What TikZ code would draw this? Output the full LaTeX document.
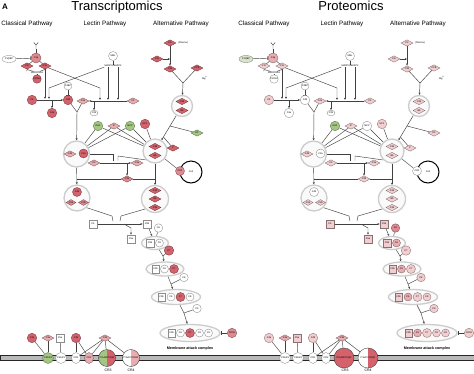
\documentclass[tikz,border=0pt]{standalone}
\usepackage{fontspec}
\setmainfont{Liberation Sans}
\usetikzlibrary{shapes.geometric,arrows.meta}
\pgfdeclarelayer{bg}
\pgfsetlayers{bg,main}
\definecolor{cR}{RGB}{212,98,108}
\definecolor{cM}{RGB}{223,138,145}
\definecolor{cP}{RGB}{232,172,177}
\definecolor{cLP}{RGB}{242,206,208}
\definecolor{cG}{RGB}{163,199,130}
\definecolor{cLG}{RGB}{218,230,203}
\newcommand\tf{\fontsize{2.4}{2.8}\selectfont}
\newcommand\hf{\fontsize{6.3}{7}\selectfont}
\newcommand\setk[2]{\colorlet{k#1}{#2}}
\tikzset{
 nb/.style={draw=k#1!55!black, fill=k#1, inner sep=0pt, line width=0.35pt, font=\tf},
 ci/.style={nb=#1, circle, minimum size=9.5pt},
 di/.style={nb=#1, diamond, aspect=2, minimum width=12pt, minimum height=6.5pt},
 sqr/.style={nb=#1, rectangle, minimum size=8.5pt},
 el/.style={nb=#1, ellipse, minimum width=9pt, minimum height=11pt},
 comp/.style={circle, draw=gray!40, line width=1.3pt, fill=gray!4, minimum size=#1, inner sep=0pt},
 compe/.style={ellipse, draw=gray!40, line width=1.3pt, fill=gray!4, inner sep=0pt},
 ln/.style={draw=gray!50!black, line width=0.45pt},
 ar/.style={ln, -{Stealth[length=2.2pt,width=2pt]}},
 inh/.style={ln, -{Bar[width=3.5pt]}},
 cat/.style={ln, -{Circle[open,length=1.8pt]}},
 txt/.style={font=\tf, inner sep=0pt},
 spl/.style 2 args={circle, draw=gray!40!black, line width=0.35pt, minimum size=\crsz, inner sep=0pt, font=\tf,
   path picture={\fill[#1] (path picture bounding box.south west) rectangle (path picture bounding box.north);
                 \fill[#2] (path picture bounding box.south) rectangle (path picture bounding box.north east);}},
}
\newcommand\colsL{%
\setk{c1qbp}{white}\setk{c1q}{cM}\setk{c1r}{cR}\setk{c1s}{cR}\setk{serp}{cR}\setk{mbl}{white}%
\setk{c4bp}{white}\setk{c4}{cR}\setk{c4b}{cR}\setk{c4a}{cR}\setk{c2a}{cP}\setk{c2}{cP}\setk{c2b}{white}%
\setk{c3p}{cR}\setk{c3h}{cR}\setk{c3b0}{cR}\setk{bf}{cR}\setk{ci1a}{cR}\setk{ci1b}{cR}%
\setk{daf}{cG}\setk{fi}{cP}\setk{mcp}{cG}\setk{hf1}{cR}\setk{df}{cG}%
\setk{cla}{cP}\setk{clb}{cR}\setk{cra}{cR}\setk{crb}{cR}\setk{pp}{cR}%
\setk{c3m}{cP}\setk{c3a}{cP}\setk{c3bm}{cM}\setk{cr1}{cM}%
\setk{lla}{cR}\setk{llb}{cM}\setk{llc}{cM}\setk{lra}{cR}\setk{lrb}{cR}\setk{lrc}{cR}%
\setk{c5}{white}\setk{c5b}{white}\setk{c5a}{white}\setk{c6}{white}%
\setk{xC5b}{white}\setk{xC6}{white}\setk{xC7}{cR}\setk{xC8}{white}\setk{xC9}{white}\setk{cd59}{cM}%
\setk{b1}{cR}\setk{b2}{cP}\setk{b3}{white}\setk{b4}{cR}\setk{b5}{cP}%
\setk{mm1}{cG}\setk{mm2}{white}\setk{mm3}{white}\setk{mm4}{cP}%
\setk{cr3a}{cG}\setk{cr3b}{cR}\setk{cr4a}{white}\setk{cr4b}{cP}\def\crsz{17pt}}
\newcommand\colsR{%
\setk{c1qbp}{cLG}\setk{c1q}{cP}\setk{c1r}{cLP}\setk{c1s}{cLP}\setk{serp}{white}\setk{mbl}{white}%
\setk{c4bp}{white}\setk{c4}{cLP}\setk{c4b}{white}\setk{c4a}{white}\setk{c2a}{cLP}\setk{c2}{cLP}\setk{c2b}{white}%
\setk{c3p}{cLP}\setk{c3h}{cLP}\setk{c3b0}{cLP}\setk{bf}{cLP}\setk{ci1a}{cLP}\setk{ci1b}{cLP}%
\setk{daf}{cG}\setk{fi}{cLP}\setk{mcp}{white}\setk{hf1}{cLP}\setk{df}{cLP}%
\setk{cla}{cLP}\setk{clb}{white}\setk{cra}{cLP}\setk{crb}{cLP}\setk{pp}{cLP}%
\setk{c3m}{cLP}\setk{c3a}{cLP}\setk{c3bm}{cLP}\setk{cr1}{white}%
\setk{lla}{white}\setk{llb}{cLP}\setk{llc}{cLP}\setk{lra}{cLP}\setk{lrb}{cLP}\setk{lrc}{cLP}%
\setk{c5}{cLP}\setk{c5b}{cLP}\setk{c5a}{cLP}\setk{c6}{cM}%
\setk{xC5b}{cLP}\setk{xC6}{cP}\setk{xC7}{cLP}\setk{xC8}{cLP}\setk{xC9}{cLP}\setk{cd59}{cLP}%
\setk{b1}{cLP}\setk{b2}{cP}\setk{b3}{cLP}\setk{b4}{cLP}\setk{b5}{cP}%
\setk{mm1}{white}\setk{mm2}{white}\setk{mm3}{white}\setk{mm4}{white}%
\setk{cr3a}{cR}\setk{cr3b}{cR}\setk{cr4a}{white}\setk{cr4b}{cR}\def\crsz{20pt}}
\newcommand\drawpanel{%
\node[font=\hf, inner sep=0pt] (h1) at (27,24) {Classical Pathway};
\node[font=\hf, inner sep=0pt] (h2) at (105,24) {Lectin Pathway};
\node[font=\hf, inner sep=0pt] (h3) at (181,24) {Alternative Pathway};
% compartments
\node[comp=21pt] (ci1) at (182,106) {};
\node[comp=26pt] (convL) at (76.5,154) {};
\node[comp=24pt] (convR) at (155,151) {};
\node[comp=26pt] (lowL) at (77,198) {};
\node[comp=27pt] (lowR) at (155,199) {};
\node[compe,minimum width=27pt,minimum height=13pt] (mac1) at (155,243) {};
\node[compe,minimum width=38pt,minimum height=14pt] (mac2) at (165,269) {};
\node[compe,minimum width=49pt,minimum height=15pt] (mac3) at (176,297) {};
\node[compe,minimum width=60pt,minimum height=17pt] (mac4) at (190,333) {};
\node[circle,draw=black,line width=1pt,minimum size=22pt,font=\tf,inner sep=0pt] (cell) at (191,172) {Cell};
% classical and lectin
\coordinate (ab) at (36,49);
\draw[ln] (ab) -- ++(0,-4) -- ++(-2.2,-2.5) (ab) ++(0,-4) -- ++(2.2,-2.5);
\node[el=c1qbp, minimum width=14pt, minimum height=7pt] (c1qbp) at (9,59) {C1QBP};
\node[ci=c1q, minimum size=10pt] (c1q) at (36,58) {C1q};
\node[di=c1r] (c1r) at (27,66) {C1r};
\node[di=c1s] (c1s) at (45,66) {C1s};
\node[txt] (serpl) at (37,72.5) {SERPING1};
\node[ci=serp, minimum size=8.5pt] (serp) at (37,79) {C1INH};
\node[ci=mbl, minimum size=9pt] (mbl) at (113,56) {MBL};
\node[txt] (masp) at (113,66) {MASP1/MASP2};
\node[ci=c4bp, minimum size=8pt] (c4bp) at (68,86) {C4BP};
\node[ci=c4] (c4) at (32,100) {C4};
\node[ci=c4b] (c4b) at (68,100) {C4b};
\node[ci=c4a] (c4a) at (52,113) {C4a};
\node[di=c2a] (c2a) at (83,101) {C2a};
\node[di=c2] (c2) at (133,101) {C2};
\node[el=c2b, minimum width=8pt, minimum height=5.5pt] (c2b) at (94,113) {C2b};
% alternative
\node[di=c3p] (c3p) at (170,43) {C3};
\node[txt,anchor=west] (plasma) at (178,43) {(Plasma)};
\node[di=c3h] (c3h) at (157,59) {C3i};
\node[di=c3b0] (c3b0) at (170,69) {C3b};
\node[di=bf] (bf) at (197,68) {CFB};
\node[txt] (mg) at (205,78) {Mg\textsuperscript{2+}};
\node[di=ci1a] (ci1a) at (182,101.5) {C3b};
\node[di=ci1b] (ci1b) at (182,110.5) {Bb};
% regulators and convertases
\node[ci=daf] (daf) at (98,126) {DAF};
\node[di=fi] (fi) at (114,126) {IF};
\node[ci=mcp] (mcp) at (130,126) {MCP};
\node[ci=hf1] (hf1) at (145,124) {HF1};
\node[di=df] (df) at (197,133) {DF};
\node[di=cla] (cla) at (70,154) {C4b};
\node[ci=clb, minimum size=9pt] (clb) at (83.5,153.5) {C2a};
\node[di=cra] (cra) at (155,146.5) {C3b};
\node[di=crb] (crb) at (155,155.5) {Bb};
\node[di=pp] (pp) at (173,148) {P};
\node[di=c3m] (c3m) at (94,163) {C3};
\node[di=c3a] (c3a) at (137,163) {C3a};
\node[di=c3bm] (c3bm) at (127,179) {C3b};
\node[ci=cr1, minimum size=9pt] (cr1) at (180,171) {CR1};
\node[ci=lla, minimum size=9pt] (lla) at (77,192) {C4b};
\node[di=llb, minimum width=10pt, minimum height=6pt] (llb) at (71,202.5) {C2a};
\node[di=llc, minimum width=10pt, minimum height=6pt] (llc) at (83.5,202.5) {C3b};
\node[di=lra] (lra) at (155,190.5) {C3b};
\node[di=lrb] (lrb) at (155,199) {Bb};
\node[di=lrc] (lrc) at (155,207.5) {C3b};
% terminal pathway
\node[sqr=c5] (c5) at (93,224) {C5};
\node[sqr=c5b] (c5b) at (147,224) {C5b};
\node[sqr=c5a] (c5a) at (131,239) {C5a};
\node[ci=c6, minimum size=8.5pt] (c6) at (158.5,228) {C6};
\node[sqr=xC5b, minimum size=7.5pt] (m1a) at (150,243) {C5b};
\node[ci=xC6, minimum size=8pt] (m1b) at (159.5,243) {C6};
\node[ci=xC7] (c7) at (169,250.5) {C7};
\node[sqr=xC5b, minimum size=7.5pt] (m2a) at (155.5,269) {C5b};
\node[ci=xC6, minimum size=8pt] (m2b) at (164.5,269) {C6};
\node[ci=xC7, minimum size=9pt] (m2c) at (174,269) {C7};
\node[ci=xC8, minimum size=8.5pt] (c8) at (184,277.5) {C8};
\node[sqr=xC5b, minimum size=7.5pt] (m3a) at (161.5,297) {C5b};
\node[ci=xC6, minimum size=8pt] (m3b) at (171,297) {C6};
\node[ci=xC7, minimum size=9pt] (m3c) at (180.5,297) {C7};
\node[ci=xC8, minimum size=8pt] (m3d) at (190,297) {C8};
\node[ci=xC9, minimum size=8.5pt] (c9) at (197,308.5) {C9};
\node[sqr=xC5b, minimum size=7.5pt] (m4a) at (171.5,333) {C5b};
\node[ci=xC6, minimum size=8pt] (m4b) at (180.5,333) {C6};
\node[ci=xC7, minimum size=9pt] (m4c) at (190,333) {C7};
\node[ci=xC8, minimum size=8pt] (m4d) at (199.5,333) {C8};
\node[ci=xC9, minimum size=8pt] (m4e) at (208.5,333) {C9};
\node[ci=cd59] (cd59) at (232,333) {CD59};
\node[font=\fontsize{3.7}{4}\selectfont\bfseries, inner sep=0pt] (macl) at (190,349) {Membrane attack complex};
% receptors
\node[ci=b1] (b1) at (32,338) {C4a};
\node[di=b2] (b2) at (48,338) {C3a};
\node[sqr=b3] (b3) at (60,338) {C5a};
\node[ci=b4] (b4) at (76,338) {C4b};
\node[di=b5] (b5) at (105,338) {C3b};
\node[el=mm1] (mm1) at (48,358) {C3AR1};
\node[el=mm2] (mm2) at (61,358) {C5AR1};
\node[el=mm3] (mm3) at (76,358) {CR1};
\node[el=mm4] (mm4) at (89,358) {CR2};
\node[spl={kcr3a}{kcr3b}] (cr3) at (107,358) {ITGAM\,ITGB2};
\node[spl={kcr4a}{kcr4b}] (cr4) at (131,358) {ITGAX\,ITGB2};
\node[txt, font=\fontsize{3.5}{4}\selectfont] (cr3l) at (108,370.5) {CR3};
\node[txt, font=\fontsize{3.5}{4}\selectfont] (cr4l) at (131,370.5) {CR4};
\begin{pgfonlayer}{bg}
\draw[ln] (ab) -- (c1q);
\draw[inh] (c1qbp) -- (c1q);
\draw[ln] (c1q) -- (c1r);
\draw[ln] (c1q) -- (c1s);
\draw[inh] (serpl) -- (c1r.south);
\draw[inh] (serpl) -- (c1s.south);
\draw[ln] (serpl) -- (serp);
\draw[ln] (mbl) -- (masp);
\draw[cat] (c1s.south) -- (45,98.5);
\draw[cat] (c1s.south east) -- (100,88) -- (100,99.5);
\draw[cat] (masp.south west) -- (49,88) -- (49,98.5);
\draw[cat] ([xshift=-5pt]masp.south) -- ++(0,32.5);
\draw[cat] ([xshift=5pt]masp.south) -- ++(0,32.5);
\draw[ar] (c4) -- (c4b);
\draw[ar] (c4 -| c4a) -- (c4a);
\draw[inh] (c4bp) -- (c4b);
\draw[ar] (c2) -- (c2a);
\draw[ar] (c2 -| c2b) -- (c2b);
\coordinate (j1) at (77,112);
\draw[ln] (c4b) -- (j1);
\draw[ln] (c2a) -- (j1);
\draw[ar] (j1) -- (convL);
\draw[ar] (c3p) -- (c3b0);
\draw[ar] (c3h) -- (c3p |- c3h);
\coordinate (j2) at (183,83);
\draw[ln] (c3b0) -- (j2);
\draw[ln] (bf) -- (j2);
\draw[ar] (j2) -- (ci1);
\draw[ar] (ci1) -- (convR);
\coordinate (jdf) at (170,126);
\coordinate (jp) at (163.4,137);
\draw[ln] (df) -- (jdf);
\draw[ln] (pp) -- (jp);
\draw[ln] (hf1) -- (convR);
\draw[ln] (daf) -- (convL);
\draw[ln] (daf) -- (convR);
\draw[ln] (fi) -- (convL);
\draw[ln] (fi) -- (convR);
\draw[ln] (mcp) -- (convL);
\draw[ln] (mcp) -- (convR);
\coordinate (k1) at (113,160.5);
\coordinate (k2) at (118,160.5);
\draw[ln] (convL.east) -| (k1);
\draw[ln] (convR.south west) -- (118,156) -- (k2);
\draw[ar] (c3m) -- (c3a);
\draw[ar] (c3bm |- c3m) -- (c3bm);
\draw[ar] (convL) -- (lowL);
\draw[ar] (convR) -- (lowR);
\draw[ln] (c3bm) -- (c3bm -| convL);
\draw[ln] (c3bm) -- (c3bm -| convR);
\draw[ln] (convR) -- (cr1);
\coordinate (k3) at (113,221);
\coordinate (k4) at (120,221);
\draw[ln] (lowL.south east) -- (112,216) -- (k3);
\draw[ln] (lowR.south west) -- (121,216) -- (k4);
\draw[ar] (c5) -- (c5b);
\draw[ar] (124,224) -- (131,228) -- (c5a);
\draw[ln] (c6) -- (mac1);
\draw[ar] (c5b) -- (mac1);
\coordinate (k5) at (163,256);
\draw[ln] (mac1) -- (k5);
\draw[ln] (c7) -- (k5);
\draw[ar] (k5) -- (mac2);
\coordinate (k6) at (171,284);
\draw[ln] (mac2) -- (k6);
\draw[ln] (c8) -- (k6);
\draw[ar] (k6) -- (mac3);
\coordinate (k7) at (184,313);
\draw[ln] (mac3) -- (k7);
\draw[ln] (c9) -- (k7);
\draw[ar] (k7) -- (mac4);
\draw[inh] (cd59) -- (mac4);
\draw[ln] (b1) -- (mm1);
\draw[ln] (b2) -- (mm1);
\draw[ln] (b3) -- (mm2);
\draw[ln] (b4) -- (mm3);
\draw[ln] (b4) -- (mm4);
\draw[ln] (b5) -- (mm3);
\draw[ln] (b5) -- (mm4);
\draw[ln] (b5) -- (cr3);
\draw[ln] (b5) -- (cr4);
\end{pgfonlayer}}
\begin{document}
\begin{tikzpicture}[x=1pt,y=-1pt]
\useasboundingbox (0,0) rectangle (474,373);
\begin{pgfonlayer}{bg}
\fill[white] (0,0) rectangle (474,373);
\draw[fill=gray!55, draw=gray!30!black, line width=0.4pt] (0,355.5) rectangle (474,360.5);
\end{pgfonlayer}
\node[font=\bfseries\fontsize{8}{9}\selectfont, inner sep=0pt] (A) at (5,7) {A};
\node[font=\fontsize{13}{15}\selectfont, anchor=base, inner sep=0pt] (t1) at (117,10) {Transcriptomics};
\node[font=\fontsize{13}{15}\selectfont, anchor=base, inner sep=0pt] (t2) at (351,10) {Proteomics};
\begin{scope}[name prefix=L-]
\colsL
\drawpanel
\end{scope}
\begin{scope}[shift={(237,0)}, name prefix=R-]
\colsR
\drawpanel
\end{scope}
\end{tikzpicture}
\end{document}
